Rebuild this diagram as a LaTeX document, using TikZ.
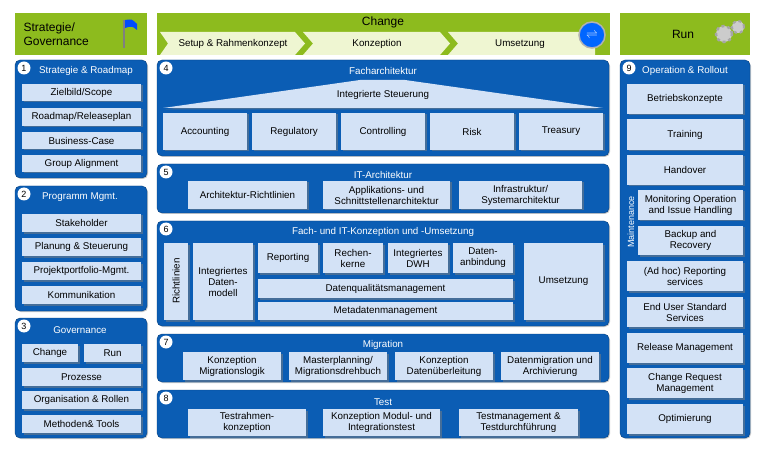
\documentclass[tikz,border=0pt]{standalone}
\usepackage{fontspec}
\setmainfont{Liberation Sans}
\usetikzlibrary{shadows}
\definecolor{pblue}{HTML}{0B5DB4}
\definecolor{lbox}{HTML}{D3E2F6}
\definecolor{hgreen}{HTML}{8DBB1E}
\definecolor{chev}{HTML}{EFF6D2}
\tikzset{
 panel/.style={fill=pblue,rounded corners=5pt,draw=pblue!70!black,drop shadow={shadow xshift=1pt,shadow yshift=-1pt,opacity=.4}},
 bx/.style={fill=lbox,draw=none,drop shadow={shadow xshift=1.5pt,shadow yshift=-1.5pt,opacity=.5}},
 bt/.style={font=\fontsize{9.8}{11}\selectfont,align=center,text=black},
 pt/.style={font=\fontsize{9.8}{11}\selectfont,text=white},
 num/.style={circle,fill=white,inner sep=0pt,minimum size=13pt,font=\fontsize{9}{9}\selectfont},
 hdr/.style={fill=hgreen},
}
% box: name, x1,y1,x2,y2, text
\newcommand\mybox[6]{\fill[bx] (#2,#3) rectangle (#4,#5);
 \node[bt] (#1) at ({(#2+#4)/2},{(#3+#5)/2}) {#6};}
\begin{document}
\begin{tikzpicture}[x=1pt,y=-1pt]
\useasboundingbox (0,0) rectangle (770,454);
\fill[white] (0,0) rectangle (770,454);
% headers
\fill[hdr] (15,13) rectangle (147,55);
\node[anchor=west,font=\fontsize{12}{13.5}\selectfont,align=left] (hsg) at (20,34) {Strategie/\\Governance};
\draw[gray,line width=1.5pt] (124,20) -- (124,48);
\fill[blue!70!cyan] (125,20) .. controls (132,19) .. (137,24) -- (137,30) .. controls (132,26) .. (125,28) -- cycle;
\fill[hdr] (157,13) rectangle (610,55);
\node[font=\fontsize{12}{13}\selectfont] (hch) at (383,22) {Change};
\fill[chev] (160,32) -- (295,32) -- (305,43.5) -- (295,55) -- (160,55) -- (168,43.5) -- cycle;
\fill[chev] (303,32) -- (440,32) -- (450,43.5) -- (440,55) -- (303,55) -- (313,43.5) -- cycle;
\fill[chev] (448,32) -- (595,32) -- (595,55) -- (448,55) -- (458,43.5) -- cycle;
\node[bt] (c1) at (233,44) {Setup \& Rahmenkonzept};
\node[bt] (c2) at (377,44) {Konzeption};
\node[bt] (c3) at (520,44) {Umsetzung};
\node[circle,fill=blue!60!cyan,draw=gray!60,line width=1.5pt,minimum size=26pt,inner sep=0pt,font=\bfseries\large,text=white] (cic) at (592,35) {$\rightleftharpoons$};
\fill[hdr] (620,13) rectangle (750,55);
\node[font=\fontsize{12}{13}\selectfont] (hrun) at (683,34) {Run};
\node[circle,draw=gray!70,fill=gray!40,line width=2.5pt,dashed,minimum size=16pt] (g1) at (724,34) {};
\node[circle,draw=gray!70,fill=gray!40,line width=2pt,dashed,minimum size=12pt] (g2) at (738,27) {};
% panel 1
\fill[panel] (15,60) rectangle (147,178);
\node[num] (n1) at (24,68) {1};
\node[pt] (t1) at (86,71) {Strategie \& Roadmap};
\mybox{a1}{22}{84}{141}{101}{Zielbild/Scope}
\mybox{a2}{22}{108}{141}{126}{Roadmap/Releaseplan}
\mybox{a3}{22}{132}{141}{149}{Business-Case}
\mybox{a4}{22}{155}{141}{172}{Group Alignment}
% panel 2
\fill[panel] (15,186) rectangle (147,311);
\node[num] (n2) at (24,194) {2};
\node[pt] (t2) at (80,197) {Programm Mgmt.};
\mybox{b1}{22}{214}{141}{232}{Stakeholder}
\mybox{b2}{22}{238}{141}{256}{Planung \& Steuerung}
\mybox{b3}{22}{262}{141}{280}{Projektportfolio-Mgmt.}
\mybox{b4}{22}{286}{141}{304}{Kommunikation}
% panel 3
\fill[panel] (15,318) rectangle (147,438);
\node[num] (n3) at (24,326) {3};
\node[pt] (t3) at (80,330) {Governance};
\mybox{g1b}{22}{344}{78}{362}{Change}
\mybox{g2b}{84}{344}{141}{362}{Run}
\mybox{g3}{22}{368}{141}{386}{Prozesse}
\mybox{g4}{22}{391}{141}{409}{Organisation \& Rollen}
\mybox{g5}{22}{415}{141}{433}{Methoden\& Tools}
% panel 4
\fill[panel] (157,60) rectangle (609,156);
\node[num] (n4) at (166,68) {4};
\node[pt] (t4) at (383,71) {Facharchitektur};
\fill[bx] (163,108) -- (360,80) -- (405,80) -- (603,108) -- cycle;
\node[bt] (is) at (383,95) {Integrierte Steuerung};
\mybox{f1}{163}{113}{247}{150}{Accounting}
\mybox{f2}{252}{113}{336}{150}{Regulatory}
\mybox{f3}{341}{113}{425}{150}{Controlling}
\mybox{f4}{430}{113}{514}{150}{Risk}
\mybox{f5}{519}{113}{603}{150}{Treasury}
% panel 5
\fill[panel] (157,164) rectangle (609,213);
\node[num] (n5) at (166,172) {5};
\node[pt] (t5) at (383,175) {IT-Architektur};
\mybox{i1}{188}{181}{307}{209}{Architektur-Richtlinien}
\mybox{i2}{323}{181}{450}{209}{Applikations- und\\Schnittstellenarchitektur}
\mybox{i3}{459}{181}{582}{209}{Infrastruktur/\\Systemarchitektur}
% panel 6
\fill[panel] (157,221) rectangle (609,326);
\node[num] (n6) at (166,229) {6};
\node[pt] (t6) at (383,232) {Fach- und IT-Konzeption und -Umsetzung};
\fill[bx] (164,243) rectangle (188,320);
\node[bt,rotate=90] (k0) at (176,281) {Richtlinien};
\mybox{k1}{193}{243}{253}{320}{Integriertes\\Daten-\\modell}
\mybox{k2}{258}{243}{318}{273}{Reporting}
\mybox{k3}{323}{243}{383}{273}{Rechen-\\kerne}
\mybox{k4}{388}{243}{448}{273}{Integriertes\\DWH}
\mybox{k5}{453}{243}{513}{273}{Daten-\\anbindung}
\mybox{k6}{258}{279}{513}{298}{Datenqualitätsmanagement}
\mybox{k7}{258}{302}{513}{320}{Metadatenmanagement}
\mybox{k8}{524}{243}{603}{320}{Umsetzung}
% panel 7
\fill[panel] (157,334) rectangle (609,382);
\node[num] (n7) at (166,342) {7};
\node[pt] (t7) at (383,345) {Migration};
\mybox{m1}{183}{352}{281}{380}{Konzeption\\Migrationslogik}
\mybox{m2}{289}{352}{387}{380}{Masterplanning/\\Migrationsdrehbuch}
\mybox{m3}{395}{352}{493}{380}{Konzeption\\Datenüberleitung}
\mybox{m4}{501}{352}{599}{380}{Datenmigration und\\Archivierung}
% panel 8
\fill[panel] (157,390) rectangle (609,438);
\node[num] (n8) at (166,398) {8};
\node[pt] (t8) at (383,402) {Test};
\mybox{e1}{188}{409}{306}{436}{Testrahmen-\\konzeption}
\mybox{e2}{323}{409}{440}{436}{Konzeption Modul- und\\Integrationstest}
\mybox{e3}{459}{409}{578}{436}{Testmanagement \&\\Testdurchführung}
% panel 9
\fill[panel] (620,60) rectangle (750,438);
\node[num] (n9) at (629,68) {9};
\node[pt] (t9) at (685,71) {Operation \& Rollout};
\mybox{r1}{627}{84}{743}{114}{Betriebskonzepte}
\mybox{r2}{627}{119}{743}{150}{Training}
\mybox{r3}{627}{155}{743}{185}{Handover}
\mybox{r4}{638}{190}{743}{220}{Monitoring Operation\\and Issue Handling}
\mybox{r5}{638}{226}{743}{255}{Backup and\\Recovery}
\mybox{r6}{627}{261}{743}{291}{(Ad hoc) Reporting\\services}
\mybox{r7}{627}{297}{743}{327}{End User Standard\\Services}
\mybox{r8}{627}{333}{743}{363}{Release Management}
\mybox{r9}{627}{368}{743}{398}{Change Request\\Management}
\mybox{r10}{627}{404}{743}{434}{Optimierung}
\node[pt,rotate=90,font=\fontsize{9}{10}\selectfont] (mt) at (631,222) {Maintenance};
\end{tikzpicture}
\end{document}
